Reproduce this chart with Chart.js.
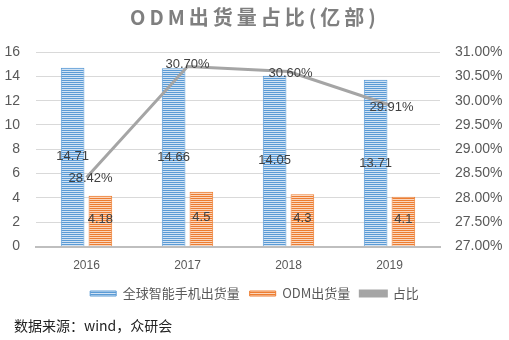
<!DOCTYPE html>
<html>
<head>
<meta charset="utf-8">
<script src="https://cdn.jsdelivr.net/npm/chart.js@4/dist/chart.umd.min.js"></script>
<style>
  html, body { margin: 0; padding: 0; background: #fff; }
  #wrap { position: relative; width: 509px; height: 340px; }
</style>
</head>
<body>
<div id="wrap"><canvas id="odmChart" width="509" height="340"></canvas></div>
<script>
// data
var years = ['2016', '2017', '2018', '2019'];
var globalShip = [14.71, 14.66, 14.05, 13.71];
var odmShip = [4.18, 4.5, 4.3, 4.1];
var odmShare = [0.2842, 0.3070, 0.3060, 0.2991];

var fontLat = '"Liberation Sans", "Noto Sans CJK SC", sans-serif';
var fontCjk = '"Noto Sans CJK SC", "Liberation Sans", sans-serif';

// striped fill like the excel bars
function stripes(c1, c2) {
  var p = document.createElement('canvas');
  p.width = 2; p.height = 2;
  var g = p.getContext('2d');
  g.fillStyle = c1; g.fillRect(0, 0, 2, 1);
  g.fillStyle = c2; g.fillRect(0, 1, 2, 1);
  return g.createPattern(p, 'repeat');
}
var ctxMain = document.getElementById('odmChart').getContext('2d');
var bluePat = stripes('#5b9bd5', '#d2e3f4');
var orangePat = stripes('#ed7d31', '#fad6bd');

// title, value labels and source line
var extras = {
  id: 'extras',
  afterDatasetsDraw: function (chart) {
    var c = chart.ctx;
    c.save();
    c.textAlign = 'center';
    c.textBaseline = 'middle';
    c.font = '13px ' + fontLat;
    c.fillStyle = '#404040';
    [0, 1].forEach(function (di) {
      chart.getDatasetMeta(di).data.forEach(function (bar, i) {
        var mid = (bar.y + bar.base) / 2;
        c.fillText(String(chart.data.datasets[di].data[i]), bar.x, mid + (di === 1 ? -2 : 0));
      });
    });
    chart.getDatasetMeta(2).data.forEach(function (pt, i) {
      var dy = [1, -2, 2, 2][i];
      var dx = [4, 0, 2, 2][i];
      c.fillText((odmShare[i] * 100).toFixed(2) + '%', pt.x + dx, pt.y + dy);
    });

    c.font = 'bold 20px ' + fontCjk;
    c.fillStyle = '#7f7f7f';
    c.letterSpacing = '4px';
    c.fillText('ODM出货量占比(亿部)', 255, 17);
    c.letterSpacing = '0px';

    c.textAlign = 'left';
    c.font = '14px ' + fontCjk;
    c.fillStyle = '#222';
    c.fillText('数据来源：wind，众研会', 14, 326);
    c.restore();
  }
};

new Chart(ctxMain, {
  type: 'bar',
  data: {
    labels: years,
    datasets: [{
      label: '全球智能手机出货量',
      data: globalShip,
      backgroundColor: bluePat,
      borderColor: '#5b9bd5',
      borderWidth: 1,
      yAxisID: 'y',
      order: 2
    }, {
      label: 'ODM出货量',
      data: odmShip,
      backgroundColor: orangePat,
      borderColor: '#ed7d31',
      borderWidth: 1,
      yAxisID: 'y',
      order: 2
    }, {
      type: 'line',
      label: '占比',
      data: odmShare,
      borderColor: '#a5a5a5',
      backgroundColor: '#a5a5a5',
      borderWidth: 3,
      pointRadius: 0,
      yAxisID: 'y1',
      order: 1
    }]
  },
  options: {
    responsive: false,
    animation: false,
    datasets: { bar: { categoryPercentage: 0.55, barPercentage: 0.85 } },
    layout: { padding: { top: 52, bottom: 30, left: 0, right: 0 } },
    plugins: {
      legend: {
        position: 'bottom',
        labels: {
          boxWidth: 26,
          boxHeight: 5,
          padding: 10,
          color: '#595959',
          font: { size: 13, family: fontCjk },
          sort: function (a, b) { return a.datasetIndex - b.datasetIndex; }
        }
      },
      tooltip: { enabled: false }
    },
    scales: {
      x: {
        afterFit: function (s) { s.height -= 8; },
        grid: { display: false, drawTicks: false },
        border: { color: '#bfbfbf', width: 2 },
        ticks: { color: '#595959', font: { size: 12, family: fontLat }, padding: 12 }
      },
      y: {
        position: 'left',
        min: 0, max: 16,
        afterFit: function (s) { s.width = 36; },
        grid: { color: '#d9d9d9', drawTicks: false },
        border: { display: false },
        ticks: { stepSize: 2, color: '#595959', font: { size: 14, family: fontLat }, padding: 16 }
      },
      y1: {
        position: 'right',
        min: 0.27, max: 0.31,
        afterFit: function (s) { s.width = 69; },
        grid: { display: false, drawTicks: false },
        border: { display: false },
        ticks: {
          stepSize: 0.005,
          color: '#595959',
          font: { size: 14, family: fontLat },
          padding: 15,
          callback: function (v) { return (v * 100).toFixed(2) + '%'; }
        }
      }
    }
  },
  plugins: [extras]
});
</script>
</body>
</html>
